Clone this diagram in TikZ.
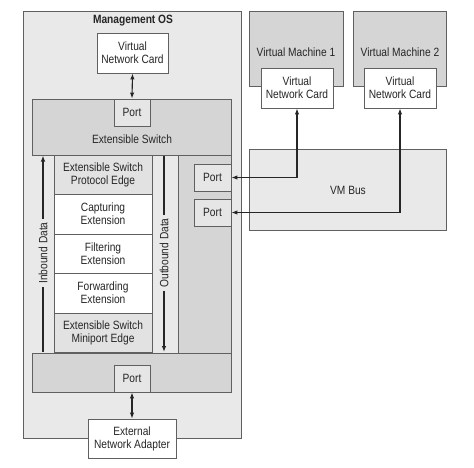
\documentclass[tikz,border=0pt]{standalone}
\usepackage{fontspec}
\setmainfont[FakeStretch=0.85]{Liberation Sans}
\usetikzlibrary{arrows.meta}
\definecolor{bglight}{HTML}{E9E9E9}
\definecolor{bgdark}{HTML}{D5D5D5}
\definecolor{portfill}{HTML}{E6E6E6}
\definecolor{edgefill}{HTML}{E2E2E2}
\definecolor{linegray}{HTML}{606060}
\tikzset{
  box/.style={draw=linegray, line width=0.9pt, rectangle, inner sep=0pt, align=center,
              font=\fontsize{12}{13}\selectfont, text=black!85},
  lbl/.style={inner sep=0pt, align=center, font=\fontsize{12}{13}\selectfont, text=black!85},
  conn/.style={line width=1.1pt, black!85, {Latex[length=6pt,width=4.5pt]}-{Latex[length=6pt,width=4.5pt]}},
  flow/.style={line width=1.1pt, black!85, -{Latex[length=6pt,width=4.5pt]}},
}
\begin{document}
\begin{tikzpicture}[x=1pt,y=-1pt]
\useasboundingbox (0,0) rectangle (474,467);
% Management OS
\node[box, fill=bglight, minimum width=218pt, minimum height=427pt] (mgmt) at (132,224.5) {};
\node[lbl, font=\fontsize{12}{13}\selectfont\bfseries] (mgmtlbl) at (133,21) {Management OS};
\node[box, fill=white, minimum width=71pt, minimum height=40pt] (vnc0) at (132.5,53) {Virtual\\Network Card};
% top switch
\node[box, fill=bgdark, minimum width=199pt, minimum height=56pt] (swtop) at (131.5,127) {};
\node[lbl] (swlbl) at (132,139) {Extensible Switch};
\node[box, fill=portfill, minimum width=36pt, minimum height=27pt] (port0) at (132,112.5) {Port};
% right gray column
\node[box, fill=bgdark, minimum width=53pt, minimum height=198pt] (rcol) at (204.5,254) {};
\node[box, fill=portfill, minimum width=37pt, minimum height=27pt] (portA) at (212.5,177.5) {Port};
\node[box, fill=portfill, minimum width=37pt, minimum height=27pt] (portB) at (212.5,212.5) {Port};
% stack
\node[box, fill=edgefill, minimum width=98pt, minimum height=39pt] (pedge) at (103,174.5) {Extensible Switch\\Protocol Edge};
\node[box, fill=white, minimum width=98pt, minimum height=40pt] (capt) at (103,214) {Capturing\\Extension};
\node[box, fill=white, minimum width=98pt, minimum height=39pt] (filt) at (103,253.5) {Filtering\\Extension};
\node[box, fill=white, minimum width=98pt, minimum height=40pt] (fwd) at (103,293) {Forwarding\\Extension};
\node[box, fill=edgefill, minimum width=98pt, minimum height=39pt] (medge) at (103,332.5) {Extensible Switch\\Miniport Edge};
% bottom switch
\node[box, fill=bgdark, minimum width=199pt, minimum height=39pt] (swbot) at (131.5,372.5) {};
\node[box, fill=portfill, minimum width=36pt, minimum height=27pt] (port1) at (132,378.5) {Port};
\node[box, fill=white, minimum width=88pt, minimum height=39pt] (ena) at (132,438.5) {External\\Network Adapter};
% data flow arrows
\coordinate (inA) at (43,352);
\coordinate (inB) at (43,155.5);
\coordinate (outA) at (164,155.5);
\coordinate (outB) at (164,352);
\draw[flow] (inA) -- (inB);
\draw[flow] (outA) -- (outB);
\node[lbl, fill=bglight, inner sep=3pt, rotate=90] (inlbl) at (43,253) {Inbound Data};
\node[lbl, fill=bglight, inner sep=3pt, rotate=90] (outlbl) at (164,253) {Outbound Data};
% connectors in management OS
\draw[conn] (vnc0.south) -- (port0.north);
\draw[conn] (port1.south) -- (ena.north);
% virtual machines
\node[box, fill=bgdark, minimum width=94pt, minimum height=75pt] (vm1) at (296,48.5) {};
\node[lbl] (vm1lbl) at (296,52) {Virtual Machine 1};
\node[box, fill=bgdark, minimum width=93pt, minimum height=75pt] (vm2) at (399.5,48.5) {};
\node[lbl] (vm2lbl) at (400,52) {Virtual Machine 2};
\node[box, fill=white, minimum width=72pt, minimum height=40pt] (vnc1) at (297,88) {Virtual\\Network Card};
\node[box, fill=white, minimum width=72pt, minimum height=40pt] (vnc2) at (400,88) {Virtual\\Network Card};
% VM bus
\node[box, fill=bglight, minimum width=197pt, minimum height=81pt] (vmbus) at (347.5,189.5) {};
\node[lbl] (vmbuslbl) at (348,190) {VM Bus};
\draw[conn] (vnc1.south) |- (portA.east);
\draw[conn] (vnc2.south) |- (portB.east);
\end{tikzpicture}
\end{document}
